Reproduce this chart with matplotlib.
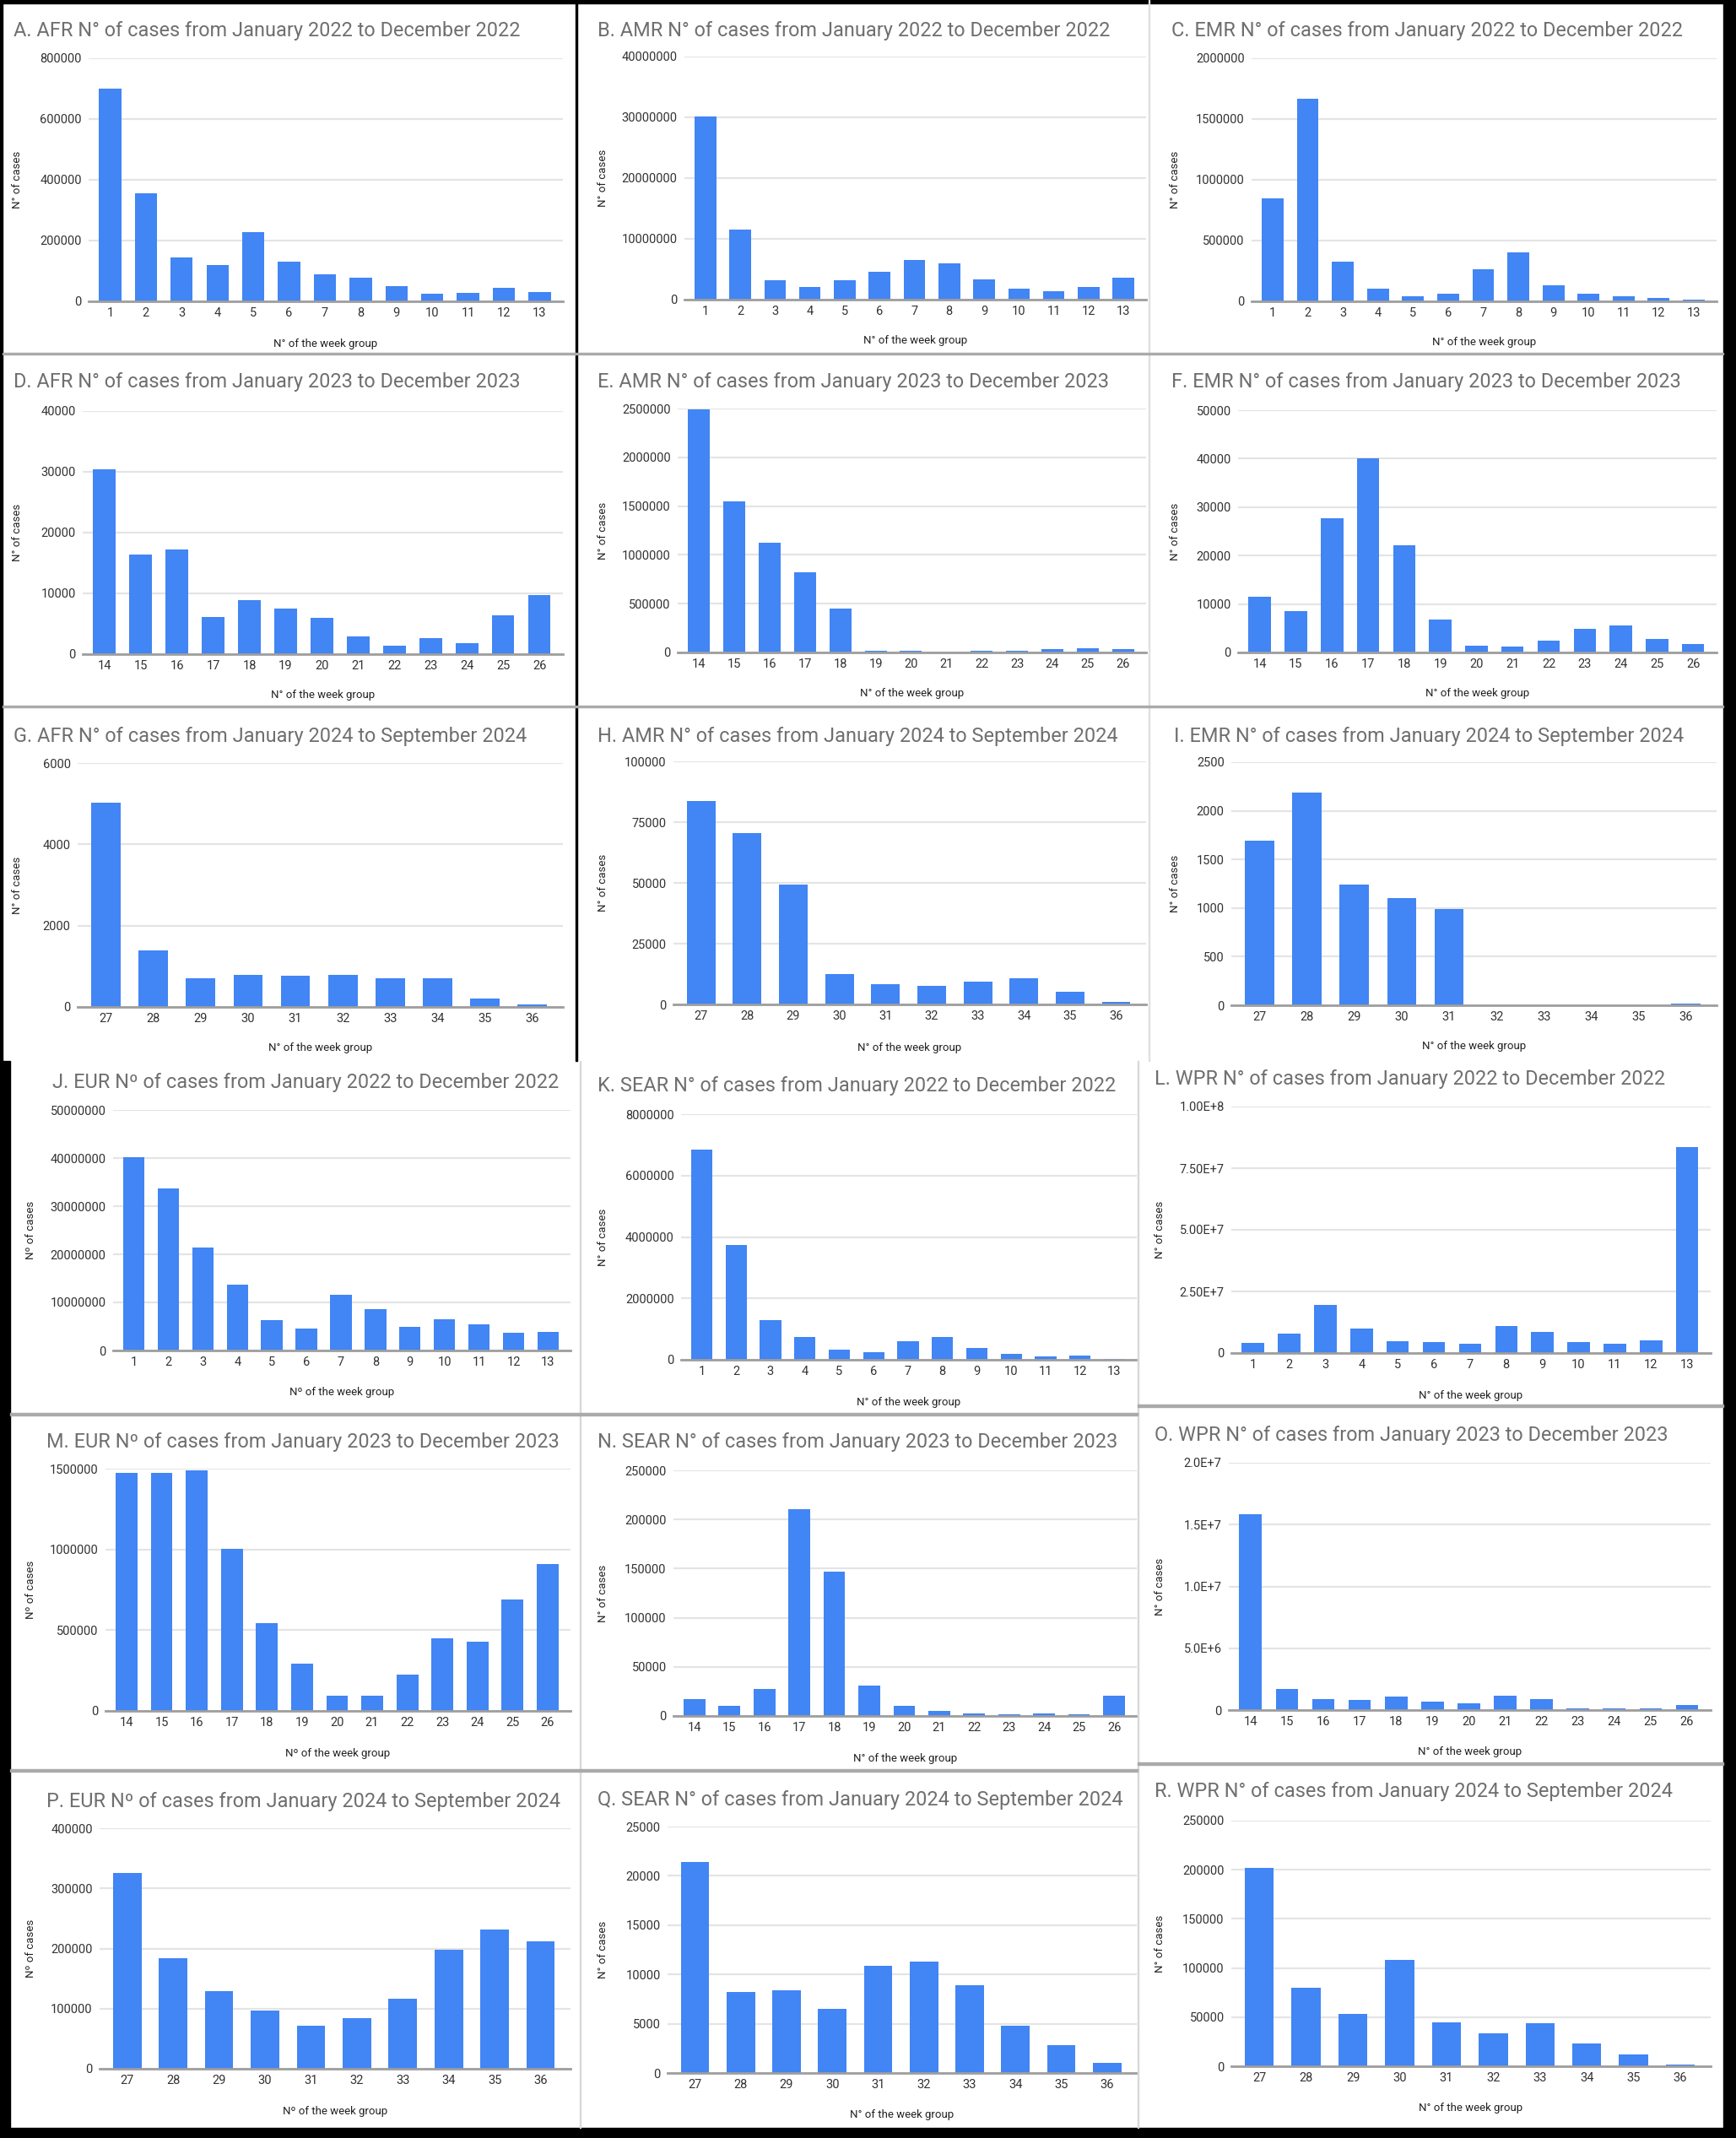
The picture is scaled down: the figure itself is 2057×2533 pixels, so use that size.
import matplotlib
matplotlib.use("Agg")
import matplotlib.pyplot as plt
from matplotlib.patches import Rectangle

plt.rcParams['font.family'] = ['Roboto', 'DejaVu Sans']

W, H = 2057, 2533
BLUE = '#4285f4'

weeks_2022 = [1, 2, 3, 4, 5, 6, 7, 8, 9, 10, 11, 12, 13]
weeks_2023 = [14, 15, 16, 17, 18, 19, 20, 21, 22, 23, 24, 25, 26]
weeks_2024 = [27, 28, 29, 30, 31, 32, 33, 34, 35, 36]

# values
afr_2022 = [700000, 355000, 145000, 120000, 229000, 131000, 90000, 78000, 51000, 25000, 28000, 45000, 31500]
amr_2022 = [30200000, 11560000, 3240000, 2080000, 3240000, 4620000, 6470000, 5920000, 3380000, 1760000, 1390000, 2080000, 3610000]
emr_2022 = [845000, 1667000, 324000, 104000, 42000, 62000, 266000, 405000, 134000, 62000, 42000, 28000, 16000]
afr_2023 = [30400, 16400, 17250, 6100, 8880, 7540, 5920, 2870, 1390, 2680, 1850, 6330, 9710]
amr_2023 = [2494000, 1549000, 1121000, 824000, 448000, 20000, 14000, 3000, 14000, 20000, 32000, 43000, 32000]
emr_2023 = [11500, 8600, 27700, 40100, 22200, 6800, 1330, 1160, 2440, 4930, 5630, 2780, 1740]
afr_2024 = [5030, 1390, 714, 798, 770, 798, 714, 714, 215, 55]
amr_2024 = [83700, 70400, 49300, 12600, 8450, 7640, 9380, 10900, 5090, 925]
emr_2024 = [1697, 2187, 1238, 1099, 992, 0, 0, 0, 0, 15]
eur_2022 = [40180000, 33740000, 21350000, 13740000, 6260000, 4500000, 11520000, 8650000, 4850000, 6430000, 5440000, 3630000, 3800000]
sear_2022 = [6844000, 3743000, 1294000, 743000, 321000, 257000, 605000, 734000, 376000, 193000, 119000, 147000, 28000]
wpr_2022 = [4110000, 7760000, 19500000, 9800000, 4900000, 4340000, 3770000, 10960000, 8560000, 4340000, 3770000, 5250000, 83700000]
eur_2023 = [1476000, 1476000, 1490000, 1005000, 543000, 291000, 96000, 96000, 226000, 448000, 430000, 688000, 909000]
sear_2023 = [17200, 10000, 27200, 210800, 146500, 30900, 10000, 5100, 2900, 2000, 2900, 2000, 20900]
wpr_2023 = [15830000, 1710000, 912000, 844000, 1070000, 661000, 570000, 1190000, 912000, 160000, 160000, 160000, 388000]
eur_2024 = [325000, 183600, 128500, 97200, 71500, 84600, 115900, 197700, 231300, 211700]
sear_2024 = [21430, 8260, 8430, 6490, 10910, 11260, 8910, 4770, 2830, 1060]
wpr_2024 = [202000, 80000, 52900, 108000, 44900, 33400, 43700, 22900, 12300, 2000]

# y tick values and labels
ticks_a = [0, 200000, 400000, 600000, 800000]
ticks_b = [0, 10000000, 20000000, 30000000, 40000000]
ticks_c = [0, 500000, 1000000, 1500000, 2000000]
ticks_d = [0, 10000, 20000, 30000, 40000]
ticks_e = [0, 500000, 1000000, 1500000, 2000000, 2500000]
ticks_f = [0, 10000, 20000, 30000, 40000, 50000]
ticks_g = [0, 2000, 4000, 6000]
ticks_h = [0, 25000, 50000, 75000, 100000]
ticks_i = [0, 500, 1000, 1500, 2000, 2500]
ticks_j = [0, 10000000, 20000000, 30000000, 40000000, 50000000]
ticks_k = [0, 2000000, 4000000, 6000000, 8000000]
ticks_l = [0, 25000000, 50000000, 75000000, 100000000]
labels_l = ['0', '2.50E+7', '5.00E+7', '7.50E+7', '1.00E+8']
ticks_m = [0, 500000, 1000000, 1500000]
ticks_n = [0, 50000, 100000, 150000, 200000, 250000]
ticks_o = [0, 5000000, 10000000, 15000000, 20000000]
labels_o = ['0', '5.0E+6', '1.0E+7', '1.5E+7', '2.0E+7']
ticks_p = [0, 100000, 200000, 300000, 400000]
ticks_q = [0, 5000, 10000, 15000, 20000, 25000]
ticks_r = [0, 50000, 100000, 150000, 200000, 250000]

titles = {
    'A': 'A. AFR N° of cases from January 2022 to December 2022',
    'B': 'B. AMR N° of cases from January 2022 to December 2022',
    'C': 'C. EMR N° of cases from January 2022 to December 2022',
    'D': 'D. AFR N° of cases from January 2023 to December 2023',
    'E': 'E. AMR N° of cases from January 2023 to December 2023',
    'F': 'F. EMR N° of cases from January 2023 to December 2023',
    'G': 'G. AFR N° of cases from January 2024 to September 2024',
    'H': 'H. AMR N° of cases from January 2024 to September 2024',
    'I': 'I. EMR N° of cases from January 2024 to September 2024',
    'J': 'J. EUR Nº of cases from January 2022 to December 2022',
    'K': 'K. SEAR N° of cases from January 2022 to December 2022',
    'L': 'L. WPR N° of cases from January 2022 to December 2022',
    'M': 'M. EUR Nº of cases from January 2023 to December 2023',
    'N': 'N. SEAR N° of cases from January 2023 to December 2023',
    'O': 'O. WPR N° of cases from January 2023 to December 2023',
    'P': 'P. EUR Nº of cases from January 2024 to September 2024',
    'Q': 'Q. SEAR N° of cases from January 2024 to September 2024',
    'R': 'R. WPR N° of cases from January 2024 to September 2024',
}

panels = [
    # key, weeks, values, ticks, tick labels, ordinal sign
    ('A', weeks_2022, afr_2022, ticks_a, None, '°'),
    ('B', weeks_2022, amr_2022, ticks_b, None, '°'),
    ('C', weeks_2022, emr_2022, ticks_c, None, '°'),
    ('D', weeks_2023, afr_2023, ticks_d, None, '°'),
    ('E', weeks_2023, amr_2023, ticks_e, None, '°'),
    ('F', weeks_2023, emr_2023, ticks_f, None, '°'),
    ('G', weeks_2024, afr_2024, ticks_g, None, '°'),
    ('H', weeks_2024, amr_2024, ticks_h, None, '°'),
    ('I', weeks_2024, emr_2024, ticks_i, None, '°'),
    ('J', weeks_2022, eur_2022, ticks_j, None, 'º'),
    ('K', weeks_2022, sear_2022, ticks_k, None, '°'),
    ('L', weeks_2022, wpr_2022, ticks_l, labels_l, '°'),
    ('M', weeks_2023, eur_2023, ticks_m, None, 'º'),
    ('N', weeks_2023, sear_2023, ticks_n, None, '°'),
    ('O', weeks_2023, wpr_2023, ticks_o, labels_o, '°'),
    ('P', weeks_2024, eur_2024, ticks_p, None, 'º'),
    ('Q', weeks_2024, sear_2024, ticks_q, None, '°'),
    ('R', weeks_2024, wpr_2024, ticks_r, None, '°'),
]

# pixel layout: grid x0, x1, top, base, title x, title y, ylabel x, xlabel y
layout = {
    'A': (105, 667, 69, 357, 16, 37, 20, 407),
    'B': (811, 1358, 67, 355, 708, 37, 715, 404),
    'C': (1483, 2034, 69, 357, 1388, 37, 1393, 406),
    'D': (98, 667, 487, 775, 16, 453, 20, 824),
    'E': (803, 1358, 484, 773, 708, 453, 715, 822),
    'F': (1467, 2034, 486, 773, 1388, 453, 1393, 822),
    'G': (92, 667, 904, 1193, 16, 872, 20, 1242),
    'H': (798, 1358, 902, 1190, 708, 872, 715, 1241),
    'I': (1459, 2034, 903, 1191, 1391, 872, 1393, 1240),
    'J': (134, 676, 1315, 1600, 62, 1283, 37, 1650),
    'K': (807, 1347, 1320, 1611, 708, 1287, 715, 1662),
    'L': (1459, 2027, 1311, 1603, 1368, 1278, 1375, 1653),
    'M': (125, 676, 1740, 2027, 55, 1708, 37, 2077),
    'N': (798, 1347, 1742, 2033, 708, 1709, 715, 2083),
    'O': (1456, 2027, 1733, 2026, 1368, 1700, 1375, 2076),
    'P': (118, 676, 2166, 2451, 55, 2134, 37, 2501),
    'Q': (791, 1347, 2164, 2456, 708, 2132, 715, 2505),
    'R': (1459, 2027, 2157, 2448, 1368, 2123, 1375, 2498),
}

fig = plt.figure(figsize=(W / 100, H / 100), dpi=100)
fig.patch.set_facecolor('white')


def fx(px):
    return px / W


def fy(py):
    return 1 - py / H


def rect(x0, y0, x1, y1, color):
    fig.patches.append(Rectangle((fx(x0), fy(y1)), fx(x1) - fx(x0), fy(y0) - fy(y1),
                                 transform=fig.transFigure, color=color, zorder=0))


for key, weeks, vals, ticks, tlabels, sign in panels:
    x0, x1, top, base, tx, ty, ylx, xly = layout[key]
    ax = fig.add_axes([fx(x0), fy(base), fx(x1) - fx(x0), fy(top) - fy(base)])
    pos = list(range(len(weeks)))
    ax.bar(pos, vals, width=0.62, color=BLUE, zorder=2)
    ax.set_xlim(-0.6, len(weeks) - 1 + 0.65)
    ax.set_ylim(0, ticks[-1])
    ax.set_xticks(pos)
    ax.set_xticklabels([str(w) for w in weeks])
    ax.set_yticks(ticks)
    if tlabels is not None:
        ax.set_yticklabels(tlabels)
    else:
        ax.set_yticklabels([str(t) for t in ticks])
    for s in ax.spines.values():
        s.set_visible(False)
    ax.yaxis.grid(True, color='#e4e4e4', lw=1.6, zorder=0)
    ax.set_axisbelow(True)
    ax.axhline(0, color='#9e9e9e', lw=2.0, zorder=3, clip_on=False)
    ax.tick_params(axis='both', length=0, labelsize=10.5, labelcolor='#333333')
    ax.tick_params(axis='x', pad=5)
    ax.tick_params(axis='y', pad=6)
    ax.patch.set_alpha(0)

    fig.text(fx(tx), fy(ty), titles[key], fontsize=16.9, color='#6f6f6f',
             ha='left', va='center')
    fig.text(fx(ylx), fy((top + base) / 2), 'N%s of cases' % sign, fontsize=9.5,
             color='#222222', rotation=90, ha='center', va='center')
    fig.text(fx((x0 + x1) / 2), fy(xly), 'N%s of the week group' % sign, fontsize=9.5,
             color='#222222', ha='center', va='center')

# outer frame and panel separators
rect(0, 0, W, 4, 'black')
rect(0, 0, 3, 1257, 'black')
rect(0, 1257, 12, H, 'black')
rect(2042, 0, W, H, 'black')
rect(0, 2521, W, H, 'black')
rect(682, 0, 684, 1257, 'black')
rect(1361, 0, 1362, 1257, '#e0e0e0')
for yb in [418, 836]:
    rect(3, yb, 2042, yb + 2, '#aaaaaa')
rect(687, 1257, 688, 2521, '#d8d8d8')
rect(1348, 1257, 1349, 2521, '#d8d8d8')
for x_a, x_b, yb in [(12, 687, 1674), (687, 1348, 1674), (1348, 2042, 1664),
                     (12, 687, 2096), (687, 1348, 2096), (1348, 2042, 2088)]:
    rect(x_a, yb, x_b, yb + 3, '#aaaaaa')

fig.savefig('out.png', dpi=100, facecolor='white')
